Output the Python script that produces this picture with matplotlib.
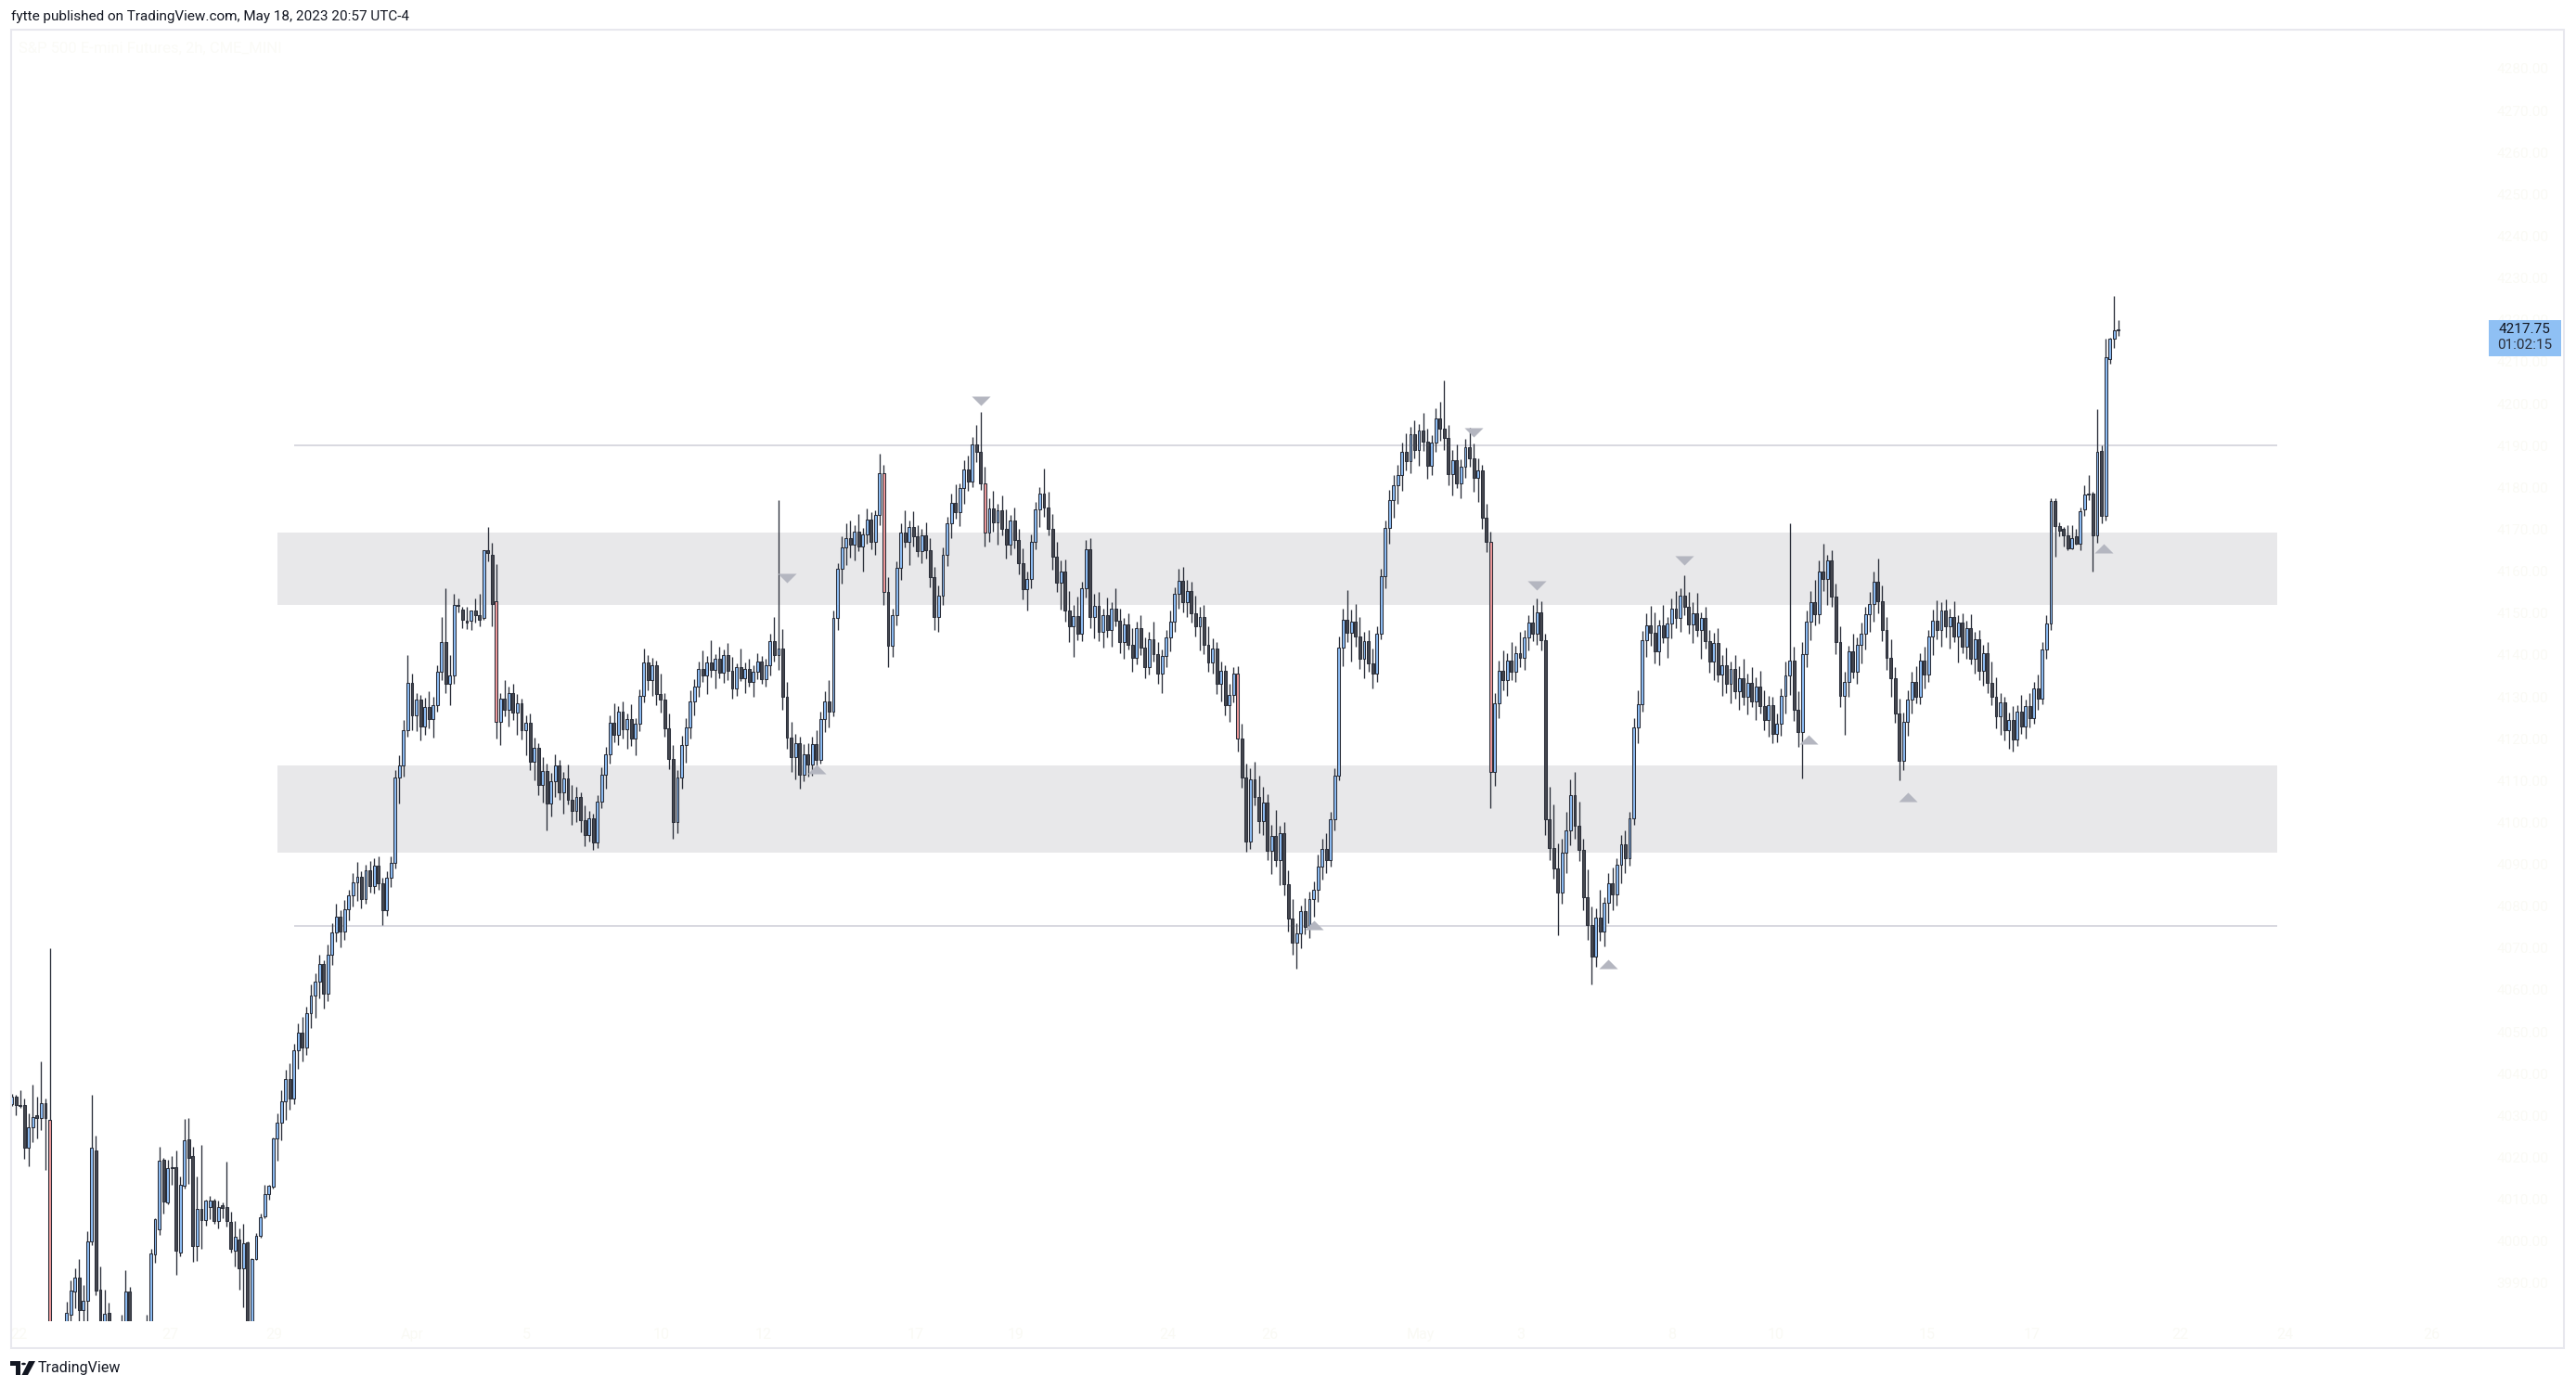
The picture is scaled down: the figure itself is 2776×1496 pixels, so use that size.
import matplotlib
matplotlib.use('Agg')
import matplotlib.pyplot as plt
from matplotlib.patches import Rectangle, Polygon, Circle
from matplotlib.transforms import blended_transform_factory

plt.rcParams['font.family'] = ['Roboto', 'DejaVu Sans']

# ---- data: ES 2h candles ----
opens = [
    4032.75, 4034.5, 4032.5, 4032.5, 4022.25, 4027.25, 4030.0, 4029.5, 4033.0, 4029.0,
    3962.0, 3968.0, 3972.0, 3976.0, 3982.5, 3988.0, 3991.25, 3983.5, 3985.75, 4000.0,
    4021.75, 3988.5, 3976.0, 3983.0, 3974.0, 3966.0, 3975.0, 3978.0, 3988.0, 3974.0,
    3962.0, 3968.0, 3975.0, 3979.0, 3996.75, 4002.75, 4019.5, 4009.25, 4017.5, 4017.75,
    3997.25, 4013.25, 4024.25, 4020.25, 3998.75, 4007.75, 4005.0, 4008.25, 4009.75, 4004.75,
    4008.5, 4008.25, 4004.5, 3997.75, 4000.5, 3993.5, 3999.75, 3978.0, 3995.75, 4001.25,
    4006.0, 4011.25, 4013.0, 4024.5, 4028.25, 4033.5, 4038.75, 4034.0, 4045.5, 4049.75,
    4046.25, 4054.5, 4058.75, 4062.0, 4066.25, 4059.0, 4068.5, 4073.75, 4077.5, 4074.0,
    4079.25, 4082.5, 4085.75, 4087.0, 4081.75, 4088.5, 4084.75, 4089.75, 4085.5, 4079.0,
    4086.75, 4090.25, 4110.75, 4113.5, 4122.0, 4133.25, 4125.5, 4129.25, 4123.0, 4127.5,
    4124.75, 4128.0, 4136.0, 4143.0, 4133.0, 4135.0, 4152.0, 4150.75, 4148.25, 4148.25,
    4150.5, 4149.5, 4148.75, 4165.0, 4164.0, 4152.75, 4124.0, 4129.5, 4127.0, 4131.0,
    4126.25, 4128.5, 4122.0, 4123.75, 4114.5, 4117.75, 4109.0, 4112.25, 4104.5, 4109.75,
    4113.5, 4107.25, 4110.5, 4105.5, 4102.75, 4106.0, 4100.5, 4097.0, 4101.0, 4095.25,
    4105.0, 4111.5, 4116.25, 4123.75, 4121.0, 4126.5, 4122.25, 4124.75, 4120.0, 4123.5,
    4130.25, 4138.25, 4134.0, 4137.5, 4130.75, 4129.25, 4122.5, 4115.25, 4100.0, 4110.75,
    4118.5, 4122.75, 4129.0, 4132.5, 4136.75, 4135.0, 4138.25, 4136.5, 4139.0, 4135.75,
    4140.0, 4136.25, 4132.0, 4137.0, 4134.5, 4136.75, 4133.5, 4136.0, 4138.5, 4134.25,
    4137.5, 4143.25, 4140.0, 4141.5, 4130.0, 4120.25, 4115.5, 4119.0, 4111.5, 4116.25,
    4113.75, 4118.75, 4115.0, 4124.75, 4129.0, 4126.5, 4148.75, 4160.5, 4165.75, 4168.0,
    4166.25, 4169.5, 4166.0, 4168.75, 4172.25, 4167.0, 4173.5, 4183.5, 4155.0, 4142.25,
    4149.5, 4160.75, 4169.25, 4167.0, 4170.5, 4168.25, 4164.75, 4168.5, 4165.0, 4158.5,
    4149.0, 4154.25, 4164.0, 4171.5, 4176.25, 4174.0, 4179.75, 4184.25, 4181.5, 4190.25,
    4188.5, 4181.0, 4169.25, 4175.0, 4171.75, 4174.5, 4170.0, 4166.25, 4172.0, 4167.5,
    4162.0, 4155.75, 4158.25, 4167.0, 4174.75, 4178.5, 4175.25, 4170.0, 4163.5, 4157.25,
    4160.0, 4150.5, 4146.75, 4149.25, 4145.0, 4156.0, 4165.25, 4149.0, 4151.75, 4145.5,
    4149.5, 4146.0, 4151.0, 4148.25, 4143.0, 4147.25, 4142.5, 4139.25, 4146.5, 4141.75,
    4137.0, 4143.75, 4140.25, 4135.5, 4139.75, 4144.25, 4148.0, 4154.5, 4157.75, 4152.5,
    4155.25, 4150.0, 4146.75, 4149.0, 4142.5, 4138.25, 4141.5, 4133.0, 4136.25, 4128.0,
    4130.5, 4135.5, 4120.0, 4110.75, 4095.5, 4110.25, 4106.0, 4100.25, 4104.75, 4093.25,
    4096.75, 4091.0, 4097.5, 4085.25, 4077.0, 4071.25, 4073.5, 4078.75, 4075.0, 4081.75,
    4084.0, 4089.5, 4093.75, 4091.0, 4100.75, 4111.25, 4141.75, 4148.5, 4145.25, 4148.0,
    4144.5, 4139.0, 4143.25, 4138.0, 4135.5, 4145.0, 4158.75, 4170.25, 4177.0, 4180.5,
    4183.0, 4188.5, 4186.25, 4192.75, 4189.0, 4193.5, 4191.0, 4185.25, 4190.75, 4196.5,
    4194.0, 4191.75, 4183.25, 4186.5, 4181.0, 4185.0, 4189.5, 4187.0, 4182.25, 4184.0,
    4172.75, 4167.0, 4112.0, 4128.5, 4136.25, 4134.0, 4138.75, 4136.0, 4140.5, 4139.25,
    4144.25, 4147.75, 4145.0, 4150.25, 4143.5, 4100.75, 4094.0, 4089.0, 4083.25, 4092.75,
    4098.0, 4106.5, 4099.25, 4093.5, 4082.25, 4075.5, 4068.0, 4077.25, 4074.0, 4080.75,
    4085.5, 4082.75, 4090.0, 4094.75, 4091.5, 4101.0, 4122.75, 4128.25, 4143.5, 4147.0,
    4145.25, 4140.75, 4147.0, 4144.25, 4147.5, 4151.0, 4148.75, 4154.25, 4151.5, 4147.25,
    4150.0, 4146.0, 4148.75, 4143.25, 4138.5, 4142.75, 4135.25, 4137.5, 4133.0, 4136.75,
    4131.25, 4134.5, 4130.0, 4133.25, 4129.0, 4132.5, 4127.75, 4124.5, 4128.0, 4121.25,
    4123.5, 4130.25, 4135.0, 4138.75, 4127.0, 4121.5, 4140.25, 4148.0, 4152.5, 4149.75,
    4160.0, 4158.25, 4162.5, 4154.0, 4143.0, 4130.25, 4133.5, 4140.75, 4136.0, 4142.5,
    4145.0, 4149.75, 4152.25, 4157.5, 4152.75, 4146.0, 4139.25, 4134.5, 4126.0, 4114.75,
    4124.0, 4129.25, 4133.5, 4130.0, 4138.75, 4135.25, 4144.5, 4148.25, 4146.0, 4150.5,
    4146.75, 4149.0, 4144.5, 4147.75, 4142.0, 4146.5, 4139.0, 4143.75, 4136.25, 4140.5,
    4133.25, 4130.0, 4125.25, 4128.75, 4122.0, 4124.5, 4119.75, 4126.5, 4123.0, 4127.75,
    4125.0, 4132.0, 4129.5, 4141.25, 4147.5, 4176.75, 4170.75, 4170.0, 4168.5, 4165.5,
    4168.25, 4166.5, 4174.75, 4178.25, 4178.5, 4168.5, 4188.75, 4173.25, 4210.75, 4215.5, 4217.5,
]
highs = [
    4035.25, 4035.0, 4036.0, 4034.0, 4030.5, 4037.5, 4034.5, 4043.0, 4034.0, 4070.0,
    3975.0, 3978.0, 3979.0, 3985.5, 3990.75, 3993.5, 3995.75, 3989.5, 4002.5, 4035.0,
    4025.25, 3994.0, 3988.5, 3985.25, 3980.0, 3978.0, 3982.5, 3993.0, 3989.0, 3979.0,
    3972.0, 3978.0, 3982.5, 3998.25, 4005.5, 4022.5, 4020.0, 4019.5, 4020.25, 4021.75,
    4015.5, 4029.25, 4029.5, 4022.5, 4015.5, 4023.0, 4010.0, 4010.75, 4010.25, 4009.75,
    4009.25, 4019.0, 4007.0, 4004.75, 4003.0, 4004.25, 4000.0, 3996.0, 4002.0, 4006.5,
    4013.5, 4013.5, 4024.75, 4030.5, 4036.0, 4041.0, 4042.5, 4047.25, 4052.0, 4053.5,
    4056.0, 4061.25, 4064.0, 4068.5, 4067.0, 4070.75, 4076.0, 4080.5, 4079.0, 4081.5,
    4084.0, 4088.0, 4090.5, 4088.25, 4090.0, 4090.75, 4091.5, 4092.0, 4086.75, 4088.25,
    4092.0, 4112.5, 4116.0, 4124.5, 4140.0, 4135.5, 4131.0, 4130.5, 4129.75, 4131.25,
    4130.0, 4137.5, 4149.0, 4156.0, 4140.0, 4154.5, 4153.5, 4151.5, 4151.5, 4150.5,
    4153.5, 4154.5, 4165.0, 4170.5, 4166.75, 4161.75, 4131.0, 4134.0, 4132.5, 4133.0,
    4130.75, 4129.5, 4125.5, 4126.0, 4120.25, 4119.0, 4115.5, 4114.0, 4111.75, 4116.25,
    4115.0, 4112.0, 4113.75, 4109.0, 4108.5, 4107.25, 4104.0, 4102.75, 4102.0, 4106.5,
    4113.25, 4118.0, 4125.5, 4128.5, 4127.75, 4129.0, 4126.0, 4128.25, 4125.0, 4131.75,
    4141.5, 4140.0, 4139.25, 4138.75, 4135.5, 4131.0, 4126.0, 4118.5, 4112.5, 4120.75,
    4125.0, 4131.5, 4134.25, 4138.5, 4141.0, 4139.75, 4143.5, 4140.25, 4142.0, 4141.25,
    4142.75, 4139.5, 4138.0, 4141.5, 4138.25, 4139.0, 4137.5, 4140.5, 4139.75, 4139.0,
    4145.0, 4149.0, 4177.0, 4146.25, 4133.5, 4124.0, 4121.25, 4120.5, 4118.75, 4119.0,
    4120.5, 4122.0, 4126.5, 4131.25, 4134.0, 4150.5, 4162.0, 4168.25, 4171.5, 4172.0,
    4171.0, 4173.75, 4170.25, 4175.0, 4174.0, 4174.5, 4188.0, 4185.5, 4158.5, 4151.0,
    4162.25, 4171.5, 4174.5, 4172.0, 4174.25, 4171.0, 4170.0, 4171.75, 4168.0, 4161.0,
    4156.5, 4165.75, 4173.0, 4178.5, 4180.75, 4181.0, 4186.5, 4187.5, 4192.0, 4195.0,
    4198.0, 4185.0, 4177.5, 4179.25, 4176.0, 4178.0, 4174.75, 4173.5, 4175.25, 4170.0,
    4165.5, 4160.0, 4168.75, 4176.5, 4180.0, 4184.5, 4179.0, 4173.75, 4167.0, 4162.5,
    4162.75, 4155.25, 4152.0, 4154.0, 4157.5, 4167.5, 4168.0, 4154.5, 4155.0, 4151.0,
    4153.75, 4152.5, 4156.0, 4151.0, 4148.75, 4150.0, 4146.5, 4148.0, 4149.5, 4144.25,
    4145.5, 4148.0, 4143.0, 4141.25, 4146.0, 4150.5, 4156.25, 4160.5, 4161.0, 4158.0,
    4157.5, 4154.25, 4151.5, 4152.0, 4146.75, 4144.0, 4143.0, 4138.5, 4137.5, 4133.0,
    4137.0, 4137.25, 4123.5, 4114.0, 4113.0, 4114.5, 4111.25, 4108.5, 4106.75, 4099.5,
    4103.0, 4099.25, 4100.0, 4088.5, 4081.75, 4076.0, 4080.25, 4082.0, 4083.5, 4086.0,
    4092.25, 4096.0, 4097.5, 4102.5, 4113.0, 4144.5, 4151.0, 4155.5, 4150.75, 4152.25,
    4149.0, 4145.5, 4146.0, 4141.5, 4146.75, 4160.5, 4172.0, 4179.5, 4183.0, 4185.5,
    4190.75, 4193.0, 4194.5, 4196.0, 4195.25, 4197.75, 4194.0, 4192.5, 4199.0, 4200.5,
    4205.5, 4195.0, 4189.0, 4190.25, 4186.75, 4191.5, 4194.25, 4190.5, 4187.0, 4185.5,
    4176.0, 4169.5, 4131.0, 4138.75, 4141.0, 4140.5, 4143.0, 4142.25, 4145.5, 4146.0,
    4149.5, 4152.0, 4153.5, 4152.75, 4145.0, 4108.5, 4104.25, 4095.0, 4096.0, 4102.5,
    4110.25, 4112.0, 4105.0, 4096.0, 4088.75, 4080.0, 4079.5, 4084.0, 4082.25, 4088.0,
    4089.25, 4091.5, 4097.0, 4098.0, 4102.5, 4125.0, 4131.5, 4145.75, 4150.0, 4151.75,
    4150.25, 4148.5, 4152.0, 4149.0, 4153.5, 4155.25, 4156.0, 4159.0, 4155.0, 4152.5,
    4154.75, 4150.25, 4151.5, 4146.0, 4145.25, 4146.5, 4140.0, 4141.75, 4138.5, 4140.0,
    4137.25, 4139.0, 4135.5, 4137.0, 4134.75, 4136.25, 4131.5, 4130.25, 4130.0, 4126.0,
    4132.0, 4138.5, 4171.5, 4142.0, 4131.25, 4143.0, 4150.5, 4155.25, 4158.0, 4162.5,
    4166.5, 4164.0, 4165.0, 4157.0, 4146.75, 4136.0, 4142.25, 4145.0, 4144.25, 4147.75,
    4151.5, 4155.0, 4160.0, 4163.0, 4156.5, 4149.0, 4143.75, 4137.0, 4129.5, 4126.25,
    4131.5, 4136.0, 4137.25, 4140.5, 4142.0, 4146.0, 4150.75, 4153.0, 4152.5, 4153.25,
    4151.0, 4152.75, 4149.5, 4150.0, 4148.25, 4149.75, 4145.5, 4146.0, 4142.5, 4143.0,
    4138.5, 4134.75, 4131.0, 4130.0, 4126.25, 4127.75, 4128.0, 4130.5, 4129.25, 4131.0,
    4133.5, 4135.25, 4143.0, 4149.5, 4177.5, 4177.5, 4171.75, 4170.5, 4171.0, 4171.0,
    4170.0, 4175.25, 4180.5, 4183.0, 4179.0, 4198.75, 4190.0, 4215.5, 4215.75, 4225.75, 4220.0,
]
lows = [
    4032.25, 4030.0, 4031.75, 4019.75, 4018.0, 4023.75, 4024.5, 4026.5, 4017.0, 3955.0,
    3950.0, 3960.0, 3965.0, 3972.0, 3980.0, 3984.0, 3981.0, 3980.5, 3981.0, 3999.0,
    3987.0, 3970.0, 3968.0, 3968.0, 3960.0, 3958.0, 3964.0, 3972.0, 3970.0, 3958.0,
    3953.0, 3962.0, 3968.0, 3976.0, 3994.75, 4001.5, 4006.5, 4008.75, 4013.5, 3992.0,
    3996.5, 4012.5, 4013.75, 3995.0, 3995.25, 3998.25, 4003.75, 4005.25, 4004.25, 4003.0,
    4005.5, 4003.5, 3997.25, 3994.0, 3988.5, 3984.25, 3972.0, 3974.0, 3995.5, 4000.75,
    4005.5, 4010.0, 4012.5, 4019.25, 4024.0, 4029.0, 4031.5, 4032.75, 4041.25, 4043.0,
    4044.5, 4051.0, 4053.25, 4058.0, 4055.5, 4057.25, 4066.0, 4071.5, 4070.25, 4072.0,
    4076.5, 4080.0, 4081.25, 4079.5, 4080.5, 4083.25, 4083.0, 4084.0, 4075.5, 4077.75,
    4084.5, 4089.0, 4104.5, 4111.0, 4120.5, 4122.0, 4121.75, 4119.5, 4121.0, 4122.5,
    4120.25, 4126.5, 4134.0, 4131.0, 4128.0, 4133.0, 4150.25, 4146.5, 4146.25, 4146.0,
    4147.75, 4146.75, 4148.5, 4162.25, 4146.75, 4120.0, 4118.5, 4125.25, 4123.0, 4124.5,
    4121.0, 4119.75, 4116.0, 4112.5, 4110.0, 4106.5, 4104.75, 4098.0, 4101.5, 4106.0,
    4105.5, 4102.0, 4104.25, 4099.5, 4100.0, 4097.75, 4094.25, 4095.5, 4093.5, 4094.0,
    4103.5, 4108.0, 4114.0, 4119.25, 4118.5, 4120.0, 4117.5, 4118.25, 4116.0, 4121.75,
    4128.75, 4131.5, 4130.25, 4128.0, 4126.25, 4120.5, 4112.75, 4096.0, 4097.5, 4108.0,
    4114.25, 4120.0, 4125.5, 4130.0, 4133.5, 4130.75, 4134.75, 4132.0, 4134.5, 4133.25,
    4134.0, 4129.5, 4130.25, 4133.75, 4131.0, 4132.5, 4130.0, 4134.25, 4133.0, 4132.5,
    4135.0, 4138.5, 4136.5, 4127.0, 4117.5, 4112.0, 4110.25, 4108.0, 4109.75, 4111.0,
    4111.25, 4113.5, 4114.0, 4121.5, 4122.75, 4125.25, 4146.0, 4157.0, 4161.5, 4163.25,
    4162.5, 4164.75, 4160.0, 4166.5, 4165.25, 4164.0, 4171.0, 4152.0, 4137.0, 4139.5,
    4147.0, 4158.0, 4165.75, 4161.5, 4166.0, 4163.5, 4162.0, 4163.0, 4156.25, 4146.0,
    4145.5, 4152.0, 4161.25, 4168.0, 4172.5, 4170.75, 4176.0, 4179.25, 4180.0, 4186.0,
    4179.5, 4166.0, 4167.0, 4169.5, 4166.25, 4168.5, 4163.0, 4164.0, 4165.5, 4159.25,
    4153.25, 4150.5, 4156.0, 4165.25, 4170.5, 4173.0, 4168.5, 4160.25, 4155.0, 4150.75,
    4148.0, 4143.0, 4139.5, 4143.5, 4143.25, 4153.75, 4146.5, 4144.0, 4143.25, 4141.75,
    4144.25, 4142.0, 4146.75, 4140.5, 4139.0, 4141.25, 4136.0, 4137.75, 4140.0, 4134.5,
    4135.25, 4138.5, 4133.0, 4131.0, 4137.0, 4140.75, 4145.5, 4151.0, 4150.25, 4149.0,
    4147.75, 4144.5, 4141.0, 4140.25, 4136.0, 4135.5, 4130.75, 4129.0, 4125.5, 4124.0,
    4128.75, 4117.0, 4108.25, 4093.0, 4093.75, 4104.0, 4097.5, 4097.0, 4091.0, 4087.75,
    4089.5, 4085.0, 4082.5, 4074.0, 4068.5, 4065.0, 4070.0, 4073.25, 4072.5, 4077.5,
    4081.0, 4086.25, 4088.0, 4089.5, 4098.0, 4110.0, 4137.25, 4143.0, 4138.5, 4142.0,
    4136.75, 4134.5, 4136.0, 4132.0, 4133.5, 4143.75, 4156.0, 4166.5, 4172.75, 4176.0,
    4179.25, 4184.0, 4183.5, 4187.0, 4185.25, 4188.75, 4182.0, 4183.0, 4188.5, 4191.25,
    4189.0, 4180.5, 4178.0, 4179.75, 4177.5, 4182.25, 4185.0, 4179.0, 4176.5, 4170.0,
    4164.5, 4103.5, 4108.75, 4125.0, 4131.5, 4130.25, 4134.0, 4133.5, 4137.0, 4136.5,
    4141.0, 4143.25, 4142.5, 4141.0, 4097.0, 4091.0, 4086.5, 4073.0, 4080.5, 4088.0,
    4094.5, 4096.0, 4090.75, 4079.0, 4072.0, 4061.25, 4065.5, 4071.75, 4070.5, 4076.0,
    4079.0, 4080.25, 4085.5, 4088.0, 4089.75, 4099.5, 4119.0, 4126.5, 4139.5, 4142.25,
    4138.0, 4137.5, 4142.75, 4139.25, 4144.0, 4146.5, 4145.5, 4149.5, 4145.0, 4142.75,
    4144.5, 4139.0, 4141.5, 4135.75, 4134.0, 4133.5, 4130.25, 4131.0, 4128.5, 4129.5,
    4127.0, 4128.0, 4125.75, 4127.5, 4124.5, 4126.0, 4122.0, 4120.5, 4119.0, 4119.25,
    4120.75, 4126.0, 4130.5, 4124.25, 4118.0, 4110.5, 4137.0, 4143.5, 4147.0, 4147.5,
    4155.25, 4152.0, 4151.5, 4140.25, 4127.5, 4121.0, 4130.0, 4134.5, 4133.0, 4138.0,
    4141.25, 4145.5, 4148.0, 4150.0, 4143.25, 4136.5, 4130.0, 4123.75, 4110.0, 4112.5,
    4120.75, 4126.0, 4128.5, 4128.25, 4132.0, 4133.5, 4140.0, 4143.75, 4142.0, 4144.25,
    4141.5, 4143.0, 4138.25, 4140.5, 4139.0, 4137.75, 4135.5, 4134.0, 4132.75, 4131.0,
    4128.0, 4122.5, 4121.0, 4119.5, 4117.5, 4117.0, 4118.25, 4121.25, 4120.0, 4122.75,
    4123.5, 4127.0, 4128.25, 4139.0, 4146.0, 4163.5, 4168.25, 4166.0, 4165.0, 4165.25,
    4166.25, 4165.0, 4173.25, 4177.0, 4160.0, 4166.75, 4171.5, 4172.0, 4209.5, 4213.25, 4216.25,
]
closes = [
    4034.5, 4032.5, 4032.25, 4022.25, 4027.25, 4029.75, 4029.5, 4033.0, 4029.5, 3962.0,
    3968.0, 3972.0, 3975.0, 3983.0, 3988.25, 3991.25, 3983.5, 3985.75, 4000.0, 4022.25,
    3988.25, 3976.0, 3982.75, 3974.0, 3966.0, 3975.0, 3978.0, 3988.0, 3974.0, 3962.0,
    3968.0, 3975.0, 3979.0, 3997.0, 4005.25, 4019.25, 4009.5, 4017.5, 4017.75, 3997.75,
    4013.5, 4024.0, 4020.0, 3998.75, 4007.75, 4005.0, 4009.75, 4009.75, 4004.75, 4008.25,
    4008.0, 4004.75, 3998.25, 4001.0, 3993.5, 3999.5, 3978.0, 3995.75, 4001.25, 4005.75,
    4011.25, 4013.25, 4024.5, 4028.25, 4033.5, 4038.75, 4034.0, 4045.5, 4049.75, 4046.25,
    4054.5, 4058.75, 4062.0, 4066.25, 4059.0, 4068.5, 4073.75, 4077.5, 4074.0, 4079.25,
    4082.5, 4085.75, 4087.0, 4081.75, 4088.5, 4084.75, 4089.75, 4085.5, 4079.0, 4086.75,
    4090.25, 4110.75, 4113.5, 4122.0, 4133.25, 4125.5, 4129.25, 4123.0, 4127.5, 4124.75,
    4128.0, 4136.0, 4143.0, 4133.0, 4135.0, 4152.0, 4151.75, 4148.5, 4147.75, 4150.5,
    4149.5, 4148.5, 4165.0, 4164.25, 4152.25, 4124.0, 4129.5, 4127.0, 4131.0, 4126.25,
    4128.5, 4122.0, 4123.75, 4114.5, 4117.75, 4109.0, 4112.25, 4104.5, 4109.75, 4113.5,
    4107.25, 4110.5, 4105.5, 4102.75, 4106.0, 4100.5, 4097.0, 4101.0, 4095.25, 4105.0,
    4111.5, 4116.25, 4123.75, 4121.0, 4126.5, 4122.25, 4124.75, 4120.0, 4123.5, 4130.25,
    4138.25, 4134.0, 4137.5, 4130.75, 4129.25, 4122.5, 4115.25, 4100.0, 4110.75, 4118.5,
    4122.75, 4129.0, 4132.5, 4136.75, 4135.0, 4138.25, 4136.5, 4139.0, 4135.75, 4140.0,
    4136.25, 4132.0, 4137.0, 4134.5, 4136.75, 4133.5, 4136.0, 4138.5, 4134.25, 4137.5,
    4143.25, 4140.0, 4141.5, 4130.0, 4120.25, 4115.5, 4119.0, 4111.5, 4116.25, 4113.75,
    4118.75, 4115.0, 4124.75, 4129.0, 4126.5, 4148.75, 4160.5, 4165.75, 4168.0, 4166.25,
    4169.5, 4166.0, 4168.75, 4172.25, 4167.0, 4173.5, 4183.5, 4155.0, 4142.25, 4149.5,
    4160.75, 4169.25, 4167.0, 4170.5, 4168.25, 4164.75, 4168.5, 4165.0, 4158.5, 4149.0,
    4154.25, 4164.0, 4171.5, 4176.25, 4174.0, 4179.75, 4184.25, 4181.5, 4190.25, 4188.5,
    4181.0, 4169.25, 4175.0, 4171.75, 4174.5, 4170.0, 4166.25, 4172.0, 4167.5, 4162.0,
    4155.75, 4158.25, 4167.0, 4174.75, 4178.5, 4175.25, 4170.0, 4163.5, 4157.25, 4160.0,
    4150.5, 4146.75, 4149.25, 4145.0, 4156.0, 4165.25, 4149.0, 4151.75, 4145.5, 4149.5,
    4146.0, 4151.0, 4148.25, 4143.0, 4147.25, 4142.5, 4139.25, 4146.5, 4141.75, 4137.0,
    4143.75, 4140.25, 4135.5, 4139.75, 4144.25, 4148.0, 4154.5, 4157.75, 4152.5, 4155.25,
    4150.0, 4146.75, 4149.0, 4142.5, 4138.25, 4141.5, 4133.0, 4136.25, 4128.0, 4130.5,
    4135.5, 4120.0, 4110.75, 4095.5, 4110.25, 4106.0, 4100.25, 4104.75, 4093.25, 4096.75,
    4091.0, 4097.5, 4085.25, 4077.0, 4071.25, 4073.5, 4078.75, 4075.0, 4081.75, 4084.0,
    4089.5, 4093.75, 4091.0, 4100.75, 4111.25, 4141.75, 4148.5, 4145.25, 4148.0, 4144.5,
    4139.0, 4143.25, 4138.0, 4135.5, 4145.0, 4158.75, 4170.25, 4177.0, 4180.5, 4183.0,
    4188.5, 4186.25, 4192.75, 4189.0, 4193.5, 4191.0, 4185.25, 4190.75, 4196.5, 4194.0,
    4191.75, 4183.25, 4186.5, 4181.0, 4185.0, 4189.5, 4187.0, 4182.25, 4184.0, 4172.75,
    4167.0, 4112.0, 4128.5, 4136.25, 4134.0, 4138.75, 4136.0, 4140.5, 4139.25, 4144.25,
    4147.75, 4145.0, 4150.25, 4143.5, 4100.75, 4094.0, 4089.0, 4083.25, 4092.75, 4098.0,
    4106.5, 4099.25, 4093.5, 4082.25, 4075.5, 4068.0, 4077.25, 4074.0, 4080.75, 4085.5,
    4082.75, 4090.0, 4094.75, 4091.5, 4101.0, 4122.75, 4128.25, 4143.5, 4147.0, 4145.25,
    4140.75, 4147.0, 4144.25, 4147.5, 4151.0, 4148.75, 4154.25, 4151.5, 4147.25, 4150.0,
    4146.0, 4148.75, 4143.25, 4138.5, 4142.75, 4135.25, 4137.5, 4133.0, 4136.75, 4131.25,
    4134.5, 4130.0, 4133.25, 4129.0, 4132.5, 4127.75, 4124.5, 4128.0, 4121.25, 4123.5,
    4130.25, 4135.0, 4138.75, 4127.0, 4121.5, 4140.25, 4148.0, 4152.5, 4149.75, 4160.0,
    4158.25, 4162.5, 4154.0, 4143.0, 4130.25, 4133.5, 4140.75, 4136.0, 4142.5, 4145.0,
    4149.75, 4152.25, 4157.5, 4152.75, 4146.0, 4139.25, 4134.5, 4126.0, 4114.75, 4124.0,
    4129.25, 4133.5, 4130.0, 4138.75, 4135.25, 4144.5, 4148.25, 4146.0, 4150.5, 4146.75,
    4149.0, 4144.5, 4147.75, 4142.0, 4146.5, 4139.0, 4143.75, 4136.25, 4140.5, 4133.25,
    4130.0, 4125.25, 4128.75, 4122.0, 4124.5, 4119.75, 4126.5, 4123.0, 4127.75, 4125.0,
    4132.0, 4129.5, 4141.25, 4147.5, 4176.75, 4170.75, 4169.75, 4168.5, 4165.5, 4168.0,
    4166.5, 4174.25, 4178.25, 4178.5, 4168.5, 4188.5, 4173.25, 4211.0, 4215.5, 4217.5, 4217.75,
]
assert len(opens) == len(highs) == len(lows) == len(closes), (len(opens), len(highs), len(lows), len(closes))

# candles painted red by the indicator
highlight_bars = [9, 115, 207, 231, 291, 351]

# horizontal levels and zones (price), drawn from bar index to bar index
level_lines = [4190.0, 4075.25]
zones = [(4152.0, 4169.25), (4092.75, 4113.5)]
line_start, zone_start, drawing_end = 67.0, 63.1, 537.7

# pivot markers (bar index, price)
pivot_high_bars = [184, 230, 347, 362, 397]
pivot_high_marks = [4158.3, 4200.7, 4193.2, 4156.7, 4162.6]
pivot_low_bars = [191, 309, 379, 426.5, 450, 496.5]
pivot_low_marks = [4112.8, 4075.5, 4066.1, 4119.9, 4106.1, 4165.5]

# time axis
date_ticks = [1.8, 37.7, 62.2, 95.0, 122.1, 154.2, 178.5, 214.6, 238.4, 274.3,
              298.5, 334.4, 358.2, 394.1, 418.8, 454.7, 479.6, 514.6, 539.5, 574.3]
date_labels = ['22', '27', '29', 'Apr', '5', '10', '12', '17', '19', '24',
               '26', 'May', '3', '8', '10', '15', '17', '22', '24', '26']
price_ticks = list(range(3990, 4290, 10))
last_price = 4217.75
countdown = '01:02:15'

# ---- styling ----
UP = '#8dbdf5'
DOWN = '#45474f'
RED = '#ef9a9a'
EDGE = '#2a2e39'
FAINT = '#fafaf5'

W, H = 2776, 1496
def fx(px):
    return px / W
def fy(py):
    return 1 - py / H

fig = plt.figure(figsize=(W / 100, H / 100), dpi=100)
fig.patch.set_facecolor('white')

ax = fig.add_axes([fx(12), fy(1424), fx(2763) - fx(12), fy(32) - fy(1424)])
ax.set_facecolor('white')
ax.set_xlim(-0.15, 605.8)
ax.set_ylim(3980.9, 4289.3)
for s in ax.spines.values():
    s.set_visible(False)

# zones and level lines
for lo, hi in zones:
    ax.fill_between([zone_start, drawing_end], lo, hi, color='#e8e8ea', lw=0, zorder=1)
ax.hlines(level_lines, line_start, drawing_end, color='#d6d6dd', lw=1.3, zorder=2)

# candles
idx = list(range(len(closes)))
fills = []
for i in idx:
    if i in highlight_bars:
        fills.append(RED)
    elif closes[i] >= opens[i]:
        fills.append(UP)
    else:
        fills.append(DOWN)
ax.vlines(idx, lows, highs, color=EDGE, lw=0.95, zorder=3)
bottoms = [min(o, c) for o, c in zip(opens, closes)]
heights = [max(abs(c - o), 0.15) for o, c in zip(opens, closes)]
ax.bar(idx, heights, bottom=bottoms, width=0.64, color=fills,
       edgecolor=EDGE, linewidth=0.75, zorder=4)

# pivot triangles
tri_down = [(-1, 0.5), (1, 0.5), (0, -0.5), (-1, 0.5)]
tri_up = [(-1, -0.5), (1, -0.5), (0, 0.5), (-1, -0.5)]
ax.scatter(pivot_high_bars, pivot_high_marks, marker=tri_down, s=210,
           color='#b4b6c0', linewidths=0, zorder=5)
ax.scatter(pivot_low_bars, pivot_low_marks, marker=tri_up, s=210,
           color='#b4b6c0', linewidths=0, zorder=5)

# axes ticks (very faint, as on the published snapshot)
ax.yaxis.tick_right()
ax.set_yticks(price_ticks, [f'{v:.2f}' for v in price_ticks])
ax.tick_params(axis='y', length=0, pad=-52, labelsize=11, labelcolor=FAINT)
ax.set_xticks(date_ticks, date_labels)
ax.tick_params(axis='x', length=0, pad=5, labelsize=11.5, labelcolor=FAINT)

# last price label
tr = blended_transform_factory(ax.transAxes, ax.transData)
ax.add_patch(Rectangle((0.97056, last_price - 6.4), 0.02835, 8.6, transform=tr,
                       facecolor='#8fc0f4', edgecolor='none', zorder=10, clip_on=False))
ax.text(0.98473, last_price, f'{last_price:.2f}', transform=tr, ha='center', va='center',
        fontsize=11, color='#131722', zorder=11)
ax.text(0.98473, last_price - 3.8, countdown, transform=tr, ha='center', va='center',
        fontsize=11, color='#2a2e39', zorder=11)

# outer frame
fig.add_artist(Rectangle((fx(12), fy(1453)), fx(2763) - fx(12), fy(32) - fy(1453),
                         transform=fig.transFigure, fill=False, edgecolor='#e8e8ee', lw=1.5))

# header, faint symbol title, footer
fig.text(fx(12), fy(18), 'fytte published on TradingView.com, May 18, 2023 20:57 UTC-4',
         fontsize=11, color='#131722', ha='left', va='center')
fig.text(fx(20), fy(52), 'S&P 500 E-mini Futures, 2h, CME_MINI',
         fontsize=12, color='#fbfbf7', ha='left', va='center')
fig.text(fx(41), fy(1475), 'TradingView', fontsize=11.5, color='#131722', ha='left', va='center')

# TradingView logo mark
logo = '#131722'
fig.add_artist(Polygon([(fx(11), fy(1467)), (fx(22), fy(1467)), (fx(22), fy(1482)),
                        (fx(16.5), fy(1482)), (fx(16.5), fy(1472)), (fx(11), fy(1472))],
                       closed=True, transform=fig.transFigure, color=logo, lw=0))
fig.add_artist(Circle((fx(25.5), fy(1470)), 2.4 / W, transform=fig.transFigure, color=logo, lw=0))
fig.add_artist(Polygon([(fx(31), fy(1467)), (fx(38), fy(1467)), (fx(30), fy(1482)), (fx(23.5), fy(1482))],
                       closed=True, transform=fig.transFigure, color=logo, lw=0))

fig.savefig('out.png', dpi=100)
